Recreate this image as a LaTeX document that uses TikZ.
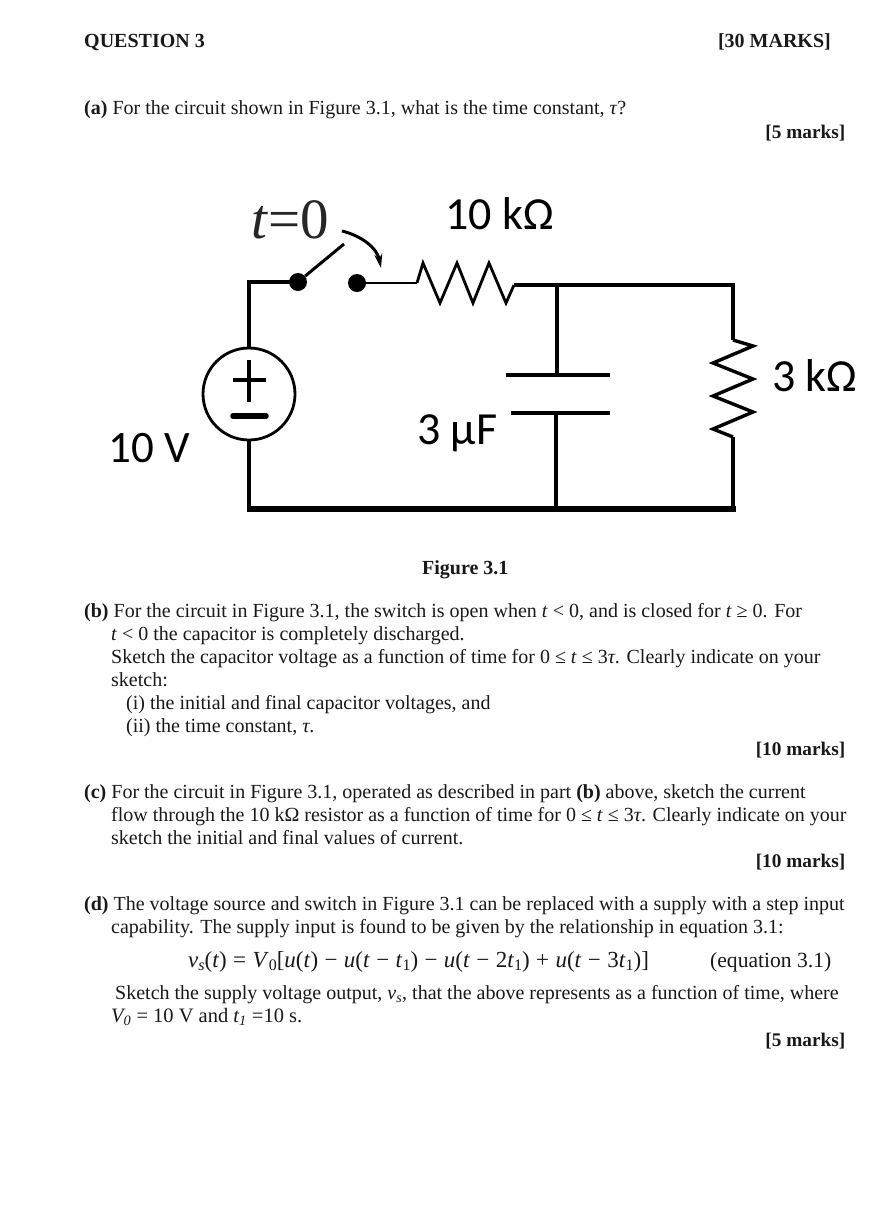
\documentclass[tikz,border=0pt]{standalone}
\usepackage{fontspec}
\setmainfont{Liberation Serif}
\newfontfamily\calib{Carlito}
\usetikzlibrary{arrows.meta}
\newcommand{\tvar}{\textit{t}}
\newcommand{\tauvar}{\textit{τ}}
\newcommand{\eqone}{\raisebox{-3.5pt}{\fontsize{16}{16}\selectfont 1}}
\newcommand{\eqop}[1]{\hspace{6.4pt}#1\hspace{6.4pt}}
\tikzset{
  txt/.style={anchor=base west,inner sep=0pt,text=black!90,font=\fontsize{20}{23}\selectfont},
  btxt/.style={txt,font=\fontsize{20}{23}\selectfont\bfseries},
  rtxt/.style={txt,anchor=base east,font=\fontsize{19.3}{23}\selectfont\bfseries},
  lab/.style={anchor=base west,inner sep=0pt,text=black,font=\calib\fontsize{46}{50}\selectfont},
  wire/.style={line width=4pt,line join=miter},
  thinwire/.style={line width=2.8pt,line join=miter},
  dotnode/.style={circle,fill=black,inner sep=0pt,minimum size=18pt},
  srcnode/.style={circle,draw=black,line width=2.8pt,inner sep=0pt,minimum size=92pt}
}
\begin{document}
\begin{tikzpicture}[x=1pt,y=-1pt]
\useasboundingbox (0,0) rectangle (889,1216);
\fill[white] (0,0) rectangle (889,1216);

% text
\node[btxt] (q) at (84,47.5) {QUESTION 3};
\node[btxt,anchor=base east] (m30) at (831,47.5) {[30 MARKS]};
\node[txt] (a1) at (84,114) {\textbf{(a)} For the circuit shown in Figure 3.1, what is the time constant, \tauvar?};
\node[rtxt] (m5a) at (845.5,138) {[5 marks]};
\node[btxt] (fig) at (422,574) {Figure 3.1};
\node[txt] (b1) at (84,617) {\textbf{(b)} For the circuit in Figure 3.1, the switch is open when \tvar{} < 0, and is closed for \tvar{} ≥ 0. For};
\node[txt] (b2) at (111,640) {\tvar{} < 0 the capacitor is completely discharged.};
\node[txt] (b3) at (111,663) {Sketch the capacitor voltage as a function of time for 0 ≤ \tvar{} ≤ 3\tauvar. Clearly indicate on your};
\node[txt] (b4) at (111,686) {sketch:};
\node[txt] (b5) at (126,709) {(i) the initial and final capacitor voltages, and};
\node[txt] (b6) at (126,732) {(ii) the time constant, \tauvar.};
\node[rtxt] (m10b) at (845.5,755) {[10 marks]};
\node[txt] (c1) at (84,798) {\textbf{(c)} For the circuit in Figure 3.1, operated as described in part \textbf{(b)} above, sketch the current};
\node[txt] (c2) at (111,821) {flow through the 10 kΩ resistor as a function of time for 0 ≤ \tvar{} ≤ 3\tauvar. Clearly indicate on your};
\node[txt] (c3) at (111,844) {sketch the initial and final values of current.};
\node[rtxt] (m10c) at (845.5,867) {[10 marks]};
\node[txt] (d1) at (84,910) {\textbf{(d)} The voltage source and switch in Figure 3.1 can be replaced with a supply with a step input};
\node[txt] (d2) at (111,933) {capability. The supply input is found to be given by the relationship in equation 3.1:};
\node[txt,font=\fontsize{23}{23}\selectfont] (eq) at (188,967) {\textit{v}\raisebox{-3.5pt}{\fontsize{16}{16}\selectfont\textit{s}}(\textit{t})\eqop{=}\textit{V}\raisebox{-3.5pt}{\fontsize{16}{16}\selectfont 0}[\textit{u}(\textit{t})\eqop{−}\textit{u}(\textit{t}\eqop{−}\textit{t}\eqone)\eqop{−}\textit{u}(\textit{t}\eqop{−}2\textit{t}\eqone)\eqop{+}\textit{u}(\textit{t}\eqop{−}3\textit{t}\eqone)]};
\node[txt,font=\fontsize{21.6}{23}\selectfont] (eqn) at (710,967) {(equation 3.1)};
\node[txt] (d3) at (115,999) {Sketch the supply voltage output, \textit{v\textsubscript{s}}, that the above represents as a function of time, where};
\node[txt,font=\fontsize{20.5}{23}\selectfont] (d4) at (111,1022) {\textit{V\textsubscript{0}} = 10 V and \textit{t\textsubscript{1}} =10 s.};
\node[rtxt] (m5d) at (845.5,1046) {[5 marks]};

% circuit labels
\node[txt,font=\fontsize{57}{60}\selectfont,text=black!85] (t0) at (251,238) {\tvar=0};
\node[lab] (l10k) at (445,229) {10 kΩ};
\node[lab] (l3k) at (772,391) {3 kΩ};
\node[lab] (l3u) at (417,444) {3 µF};
\node[lab,font=\calib\fontsize{45}{50}\selectfont] (l10v) at (108,462) {10 V};

% circuit nodes
\node[dotnode] (sl) at (298,282) {};
\node[dotnode] (sr) at (357,283) {};
\node[srcnode] (src) at (249,394) {};
\coordinate (tl) at (249,282);
\coordinate (bl) at (249,509);
\coordinate (rin) at (417,283);
\coordinate (rout) at (514,285);
\coordinate (jt) at (557,285);
\coordinate (tr) at (733,285);
\coordinate (br) at (736,509);
\coordinate (jb) at (556,509);
\coordinate (ct) at (557,375);
\coordinate (cb) at (556,413);
\coordinate (ctl) at (506,375);
\coordinate (ctr) at (610,375);
\coordinate (cbl) at (511,413);
\coordinate (cbr) at (610,413);
\coordinate (armend) at (344,244);
\coordinate (arrs) at (342,231);
\coordinate (arre) at (381,268);
\coordinate (r2in) at (733,340);
\coordinate (r2out) at (733,437);

% wires
\draw[wire] (sl.center) -- (tl) -- (src.north);
\draw[wire] (src.south) -- (bl);
\draw[line width=5.5pt] (247,509) -- (br);
\draw[thinwire] (sr.center) -- (rin);
\draw[thinwire] (rin) -- (423,263) -- (440,303) -- (457,263) -- (473,303) -- (489,263) -- (506,303) -- (rout);
\draw[wire] (rout) -- (tr) -- (r2in);
\draw[line width=3.4pt,line join=miter] (r2in) -- (753,346) -- (713,363) -- (753,379) -- (713,396) -- (753,412) -- (713,429) -- (r2out);
\draw[wire] (r2out) -- (733,509);
\draw[wire] (jt) -- (ct);
\draw[wire] (ctl) -- (ctr);
\draw[wire] (cbl) -- (cbr);
\draw[wire] (cb) -- (jb);
\draw[line width=3pt] (sl) -- (armend);
\draw[line width=3pt,-{Stealth[length=14pt,width=8pt]}] (arrs) .. controls (362,236) and (377,248) .. (arre);

% source polarity
\coordinate (pl) at (233,380); \coordinate (pr) at (266,380);
\coordinate (pt) at (249,360); \coordinate (pb) at (249,402);
\coordinate (ml) at (233,416); \coordinate (mr) at (266,416);
\draw[line width=4.5pt] (pl) -- (pr);
\draw[line width=4.5pt] (pt) -- (pb);
\draw[line width=5.5pt,line cap=round] (ml) -- (mr);
\end{tikzpicture}
\end{document}
